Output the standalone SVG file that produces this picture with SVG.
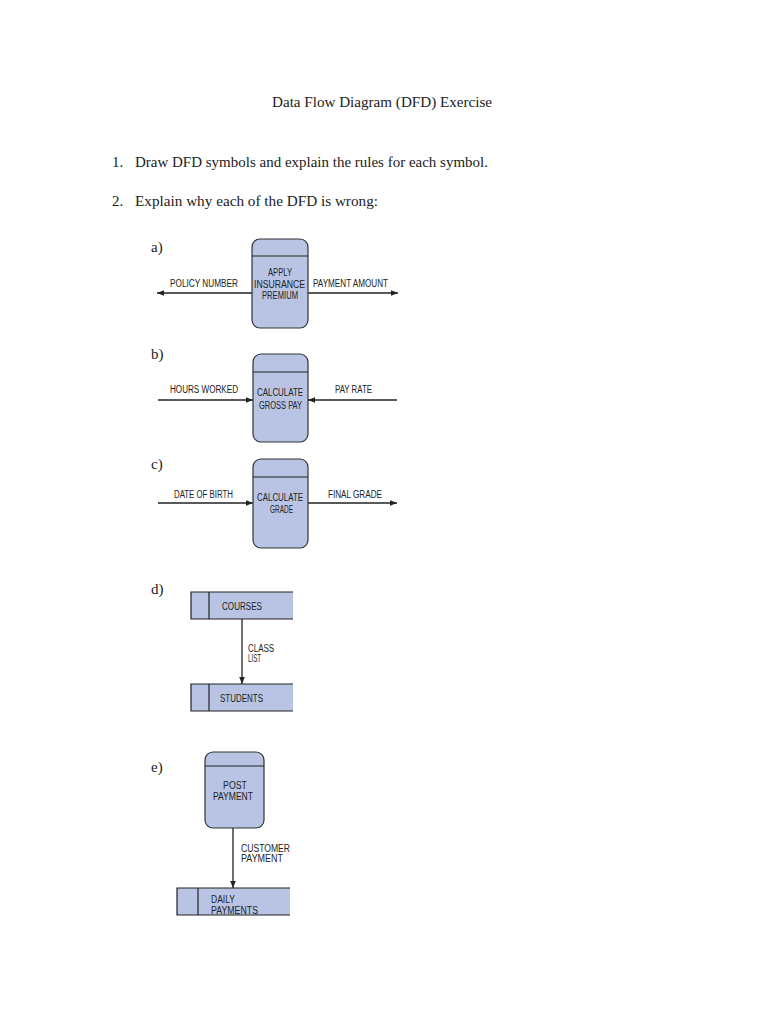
<svg xmlns="http://www.w3.org/2000/svg" width="768" height="1024" viewBox="0 0 768 1024">
<defs>
<style>
.doc{font-family:"Liberation Serif","Times New Roman",serif;font-size:15px;fill:#222}
.lbl{font-family:"Liberation Sans",Arial,sans-serif;font-size:10px;fill:#222}
.proc{fill:#b9c4e5;stroke:#333;stroke-width:1.2}
.store{fill:#b9c4e5}
.ln{stroke:#222;stroke-width:1.2;fill:none}
.flow{stroke:#222;stroke-width:1.3;fill:none;marker-end:url(#ah)}
</style>
<marker id="ah" viewBox="0 0 10 10" refX="10" refY="5" markerWidth="8" markerHeight="7" markerUnits="userSpaceOnUse" orient="auto">
<path d="M0,1 L10,5 L0,9 Z" fill="#222"/>
</marker>
</defs>
<rect width="768" height="1024" fill="#fff"/>
<g id="text">
<text class="doc" x="272" y="107" textLength="220" lengthAdjust="spacingAndGlyphs">Data Flow Diagram (DFD) Exercise</text>
<text class="doc" x="112" y="167">1.</text>
<text class="doc" x="135" y="167" textLength="353" lengthAdjust="spacingAndGlyphs">Draw DFD symbols and explain the rules for each symbol.</text>
<text class="doc" x="112" y="206">2.</text>
<text class="doc" x="135" y="206" textLength="243" lengthAdjust="spacingAndGlyphs">Explain why each of the DFD is wrong:</text>
<text class="doc" x="151" y="252">a)</text>
<text class="doc" x="151" y="359">b)</text>
<text class="doc" x="151" y="469">c)</text>
<text class="doc" x="151" y="594">d)</text>
<text class="doc" x="151" y="772">e)</text>
</g>
<g id="connectors">
<line class="flow" x1="252" y1="293" x2="157" y2="293"/>
<line class="flow" x1="308" y1="293" x2="398" y2="293"/>
<line class="flow" x1="158" y1="400" x2="253" y2="400"/>
<line class="flow" x1="397" y1="400" x2="308" y2="400"/>
<line class="flow" x1="158" y1="503" x2="253" y2="503"/>
<line class="flow" x1="308" y1="503" x2="397" y2="503"/>
<line class="flow" x1="242" y1="619" x2="242" y2="684"/>
<line class="flow" x1="233" y1="828" x2="233" y2="888"/>
<text class="lbl" x="170" y="287" textLength="68" lengthAdjust="spacingAndGlyphs">POLICY NUMBER</text>
<text class="lbl" x="313" y="287" textLength="75" lengthAdjust="spacingAndGlyphs">PAYMENT AMOUNT</text>
<text class="lbl" x="170" y="393" textLength="68" lengthAdjust="spacingAndGlyphs">HOURS WORKED</text>
<text class="lbl" x="335" y="393" textLength="37" lengthAdjust="spacingAndGlyphs">PAY RATE</text>
<text class="lbl" x="174" y="498" textLength="59" lengthAdjust="spacingAndGlyphs">DATE OF BIRTH</text>
<text class="lbl" x="328" y="498" textLength="54" lengthAdjust="spacingAndGlyphs">FINAL GRADE</text>
<text class="lbl" x="248" y="652" textLength="26" lengthAdjust="spacingAndGlyphs">CLASS</text>
<text class="lbl" x="248" y="662" textLength="13" lengthAdjust="spacingAndGlyphs">LIST</text>
<text class="lbl" x="241" y="852" textLength="49" lengthAdjust="spacingAndGlyphs">CUSTOMER</text>
<text class="lbl" x="241" y="862" textLength="42" lengthAdjust="spacingAndGlyphs">PAYMENT</text>
</g>
<g id="a-apply-insurance-premium">
<rect class="proc" x="252" y="239" width="56" height="89" rx="8"/>
<line class="ln" x1="252" y1="256" x2="308" y2="256"/>
<text class="lbl" x="268" y="276" textLength="24" lengthAdjust="spacingAndGlyphs">APPLY</text>
<text class="lbl" x="254" y="288" textLength="51" lengthAdjust="spacingAndGlyphs">INSURANCE</text>
<text class="lbl" x="262" y="299" textLength="36" lengthAdjust="spacingAndGlyphs">PREMIUM</text>
</g>
<g id="b-calculate-gross-pay">
<rect class="proc" x="253" y="354" width="55" height="88" rx="8"/>
<line class="ln" x1="253" y1="372" x2="308" y2="372"/>
<text class="lbl" x="257" y="396" textLength="46" lengthAdjust="spacingAndGlyphs">CALCULATE</text>
<text class="lbl" x="259" y="409" textLength="43" lengthAdjust="spacingAndGlyphs">GROSS PAY</text>
</g>
<g id="c-calculate-grade">
<rect class="proc" x="253" y="459" width="55" height="89" rx="8"/>
<line class="ln" x1="253" y1="477" x2="308" y2="477"/>
<text class="lbl" x="257" y="501" textLength="46" lengthAdjust="spacingAndGlyphs">CALCULATE</text>
<text class="lbl" x="270" y="513" textLength="23" lengthAdjust="spacingAndGlyphs">GRADE</text>
</g>
<g id="d-courses">
<rect class="store" x="191" y="592" width="102" height="27"/>
<path class="ln" d="M293,592 H191 V619 H293 M209,592 V619"/>
<text class="lbl" x="222" y="610" textLength="40" lengthAdjust="spacingAndGlyphs">COURSES</text>
</g>
<g id="d-students">
<rect class="store" x="191" y="684" width="102" height="27"/>
<path class="ln" d="M293,684 H191 V711 H293 M209,684 V711"/>
<text class="lbl" x="220" y="702" textLength="43" lengthAdjust="spacingAndGlyphs">STUDENTS</text>
</g>
<g id="e-post-payment">
<rect class="proc" x="205" y="752" width="59" height="76" rx="8"/>
<line class="ln" x1="205" y1="766" x2="264" y2="766"/>
<text class="lbl" x="223" y="789" textLength="24" lengthAdjust="spacingAndGlyphs">POST</text>
<text class="lbl" x="213" y="800" textLength="40" lengthAdjust="spacingAndGlyphs">PAYMENT</text>
</g>
<g id="e-daily-payments">
<rect class="store" x="177" y="888" width="113" height="27"/>
<path class="ln" d="M290,888 H177 V915 H290 M198,888 V915"/>
<text class="lbl" x="211" y="903" textLength="24" lengthAdjust="spacingAndGlyphs">DAILY</text>
<text class="lbl" x="211" y="914" textLength="47" lengthAdjust="spacingAndGlyphs">PAYMENTS</text>
</g>
</svg>
